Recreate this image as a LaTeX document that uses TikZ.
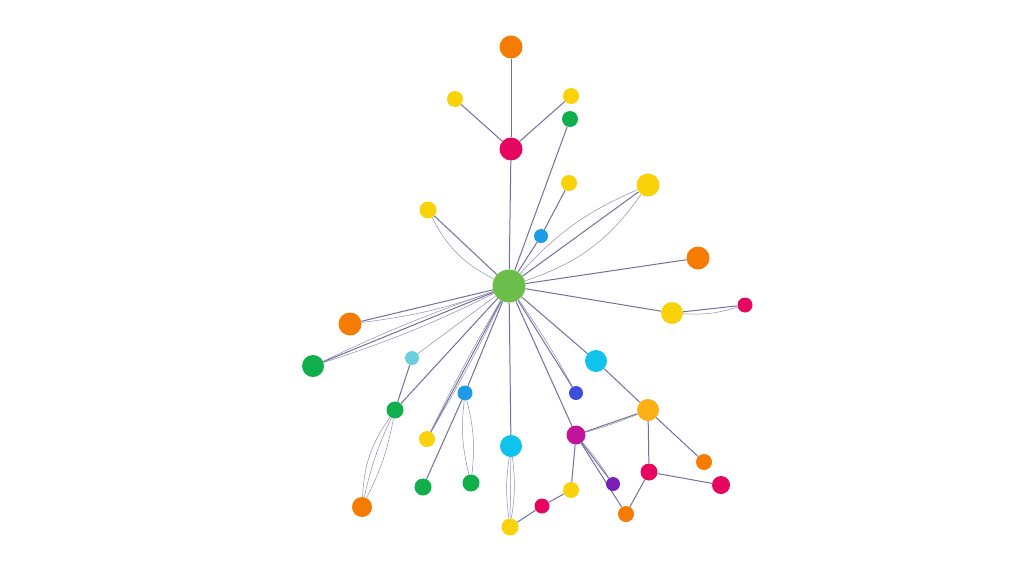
\documentclass[tikz,border=0pt]{standalone}
\usetikzlibrary{backgrounds}
\definecolor{cOrange}{RGB}{245,124,0}
\definecolor{cYellow}{RGB}{250,210,10}
\definecolor{cPink}{RGB}{230,5,95}
\definecolor{cGreen}{RGB}{15,175,75}
\definecolor{cCenter}{RGB}{108,190,75}
\definecolor{cBlue}{RGB}{30,155,230}
\definecolor{cLcyan}{RGB}{106,209,220}
\definecolor{cCyan}{RGB}{16,195,236}
\definecolor{cDblue}{RGB}{59,79,216}
\definecolor{cAmber}{RGB}{251,176,22}
\definecolor{cMag}{RGB}{192,20,154}
\definecolor{cPurple}{RGB}{123,31,184}
\definecolor{cEdge}{RGB}{112,112,158}
\begin{document}
\begin{tikzpicture}[x=1pt,y=-1pt,
  nd/.style={circle,inner sep=0pt,fill=#1},
  edge/.style={draw=cEdge,line width=1pt},
  fine/.style={draw=cEdge!80,line width=0.5pt}]
\useasboundingbox (0,0) rectangle (1024,576);
% nodes
\node[nd=cOrange,minimum size=23pt] (n1) at (511,47) {};
\node[nd=cYellow,minimum size=16pt] (n2) at (455,99) {};
\node[nd=cYellow,minimum size=16pt] (n3) at (571,96) {};
\node[nd=cGreen,minimum size=16pt] (n4) at (570,119) {};
\node[nd=cPink,minimum size=23pt] (n5) at (511,149) {};
\node[nd=cYellow,minimum size=16pt] (n6) at (569,183) {};
\node[nd=cYellow,minimum size=23pt] (n7) at (648,185) {};
\node[nd=cYellow,minimum size=17pt] (n8) at (428,210) {};
\node[nd=cBlue,minimum size=14pt] (n9) at (541,236) {};
\node[nd=cOrange,minimum size=23pt] (n10) at (698,258) {};
\node[nd=cCenter,minimum size=33pt] (n11) at (509,286) {};
\node[nd=cYellow,minimum size=22pt] (n12) at (672,313) {};
\node[nd=cPink,minimum size=15pt] (n13) at (745,305) {};
\node[nd=cOrange,minimum size=23pt] (n14) at (350,324) {};
\node[nd=cGreen,minimum size=22pt] (n15) at (313,366) {};
\node[nd=cLcyan,minimum size=14pt] (n16) at (412,358) {};
\node[nd=cCyan,minimum size=22pt] (n17) at (596,361) {};
\node[nd=cDblue,minimum size=14pt] (n18) at (576,393) {};
\node[nd=cBlue,minimum size=15pt] (n19) at (465,393) {};
\node[nd=cGreen,minimum size=17pt] (n20) at (395,410) {};
\node[nd=cAmber,minimum size=22pt] (n21) at (648,410) {};
\node[nd=cYellow,minimum size=16pt] (n22) at (427,439) {};
\node[nd=cCyan,minimum size=22pt] (n23) at (511,446) {};
\node[nd=cMag,minimum size=19pt] (n24) at (576,435) {};
\node[nd=cOrange,minimum size=16pt] (n25) at (704,462) {};
\node[nd=cPink,minimum size=17pt] (n26) at (649,472) {};
\node[nd=cPink,minimum size=18pt] (n27) at (721,485) {};
\node[nd=cPurple,minimum size=14pt] (n28) at (613,484) {};
\node[nd=cGreen,minimum size=17pt] (n29) at (423,487) {};
\node[nd=cGreen,minimum size=17pt] (n30) at (471,483) {};
\node[nd=cYellow,minimum size=16pt] (n31) at (571,490) {};
\node[nd=cPink,minimum size=15pt] (n32) at (542,506) {};
\node[nd=cOrange,minimum size=20pt] (n33) at (362,507) {};
\node[nd=cOrange,minimum size=16pt] (n34) at (626,514) {};
\node[nd=cYellow,minimum size=17pt] (n35) at (510,527) {};
% edges
\begin{scope}[on background layer]
\draw[edge] (n1) -- (n5);
\draw[edge] (n2) -- (n5);
\draw[edge] (n3) -- (n5);
\draw[edge] (n5) -- (n11);
\draw[edge] (n4) -- (n11);
\draw[edge] (n6) -- (n9);
\draw[edge] (n9) -- (n11);
\draw[edge] (n7) -- (n11);
\draw[fine] (n7) to[bend right=12] (n11);
\draw[fine] (n7) to[bend left=18] (n11);
\draw[edge] (n8) -- (n11);
\draw[fine] (n8) to[bend right=18] (n11);
\draw[edge] (n10) -- (n11);
\draw[edge] (n11) -- (n12);
\draw[edge] (n12) -- (n13);
\draw[fine] (n12) to[bend right=10] (n13);
\draw[edge] (n11) -- (n14);
\draw[fine] (n11) to[bend left=6] (n14);
\draw[edge] (n11) -- (n15);
\draw[fine] (n11) to[bend left=4] (n15);
\draw[fine] (n11) to[bend right=3] (n15);
\draw[fine] (n11) -- (n16);
\draw[edge] (n16) -- (n20);
\draw[edge] (n11) -- (n20);
\draw[edge] (n11) -- (n22);
\draw[fine] (n11) to[bend left=2] (n22);
\draw[fine] (n11) to[bend right=2] (n22);
\draw[edge] (n29) -- (n19);
\draw[edge] (n19) -- (n11);
\draw[fine] (n19) to[bend left=10] (n30);
\draw[fine] (n19) to[bend right=10] (n30);
\draw[fine] (n20) to[bend right=16] (n33);
\draw[fine] (n20) to[bend right=6] (n33);
\draw[fine] (n20) to[bend left=8] (n33);
\draw[edge] (n11) -- (n23);
\draw[fine] (n23) to[bend left=8] (n35);
\draw[fine] (n23) to[bend right=8] (n35);
\draw[fine] (n23) -- (n35);
\draw[edge] (n35) -- (n32);
\draw[edge] (n32) -- (n31);
\draw[edge] (n31) -- (n24);
\draw[edge] (n11) -- (n24);
\draw[edge] (n11) -- (n18);
\draw[fine] (n11) to[bend left=3] (n18);
\draw[edge] (n11) -- (n17);
\draw[edge] (n17) -- (n21);
\draw[edge] (n21) -- (n24);
\draw[fine] (n21) to[bend left=3] (n24);
\draw[edge] (n21) -- (n26);
\draw[edge] (n21) -- (n25);
\draw[edge] (n24) -- (n28);
\draw[fine] (n24) to[bend left=4] (n28);
\draw[edge] (n24) -- (n34);
\draw[edge] (n26) -- (n34);
\draw[edge] (n26) -- (n27);
\end{scope}
\end{tikzpicture}
\end{document}
